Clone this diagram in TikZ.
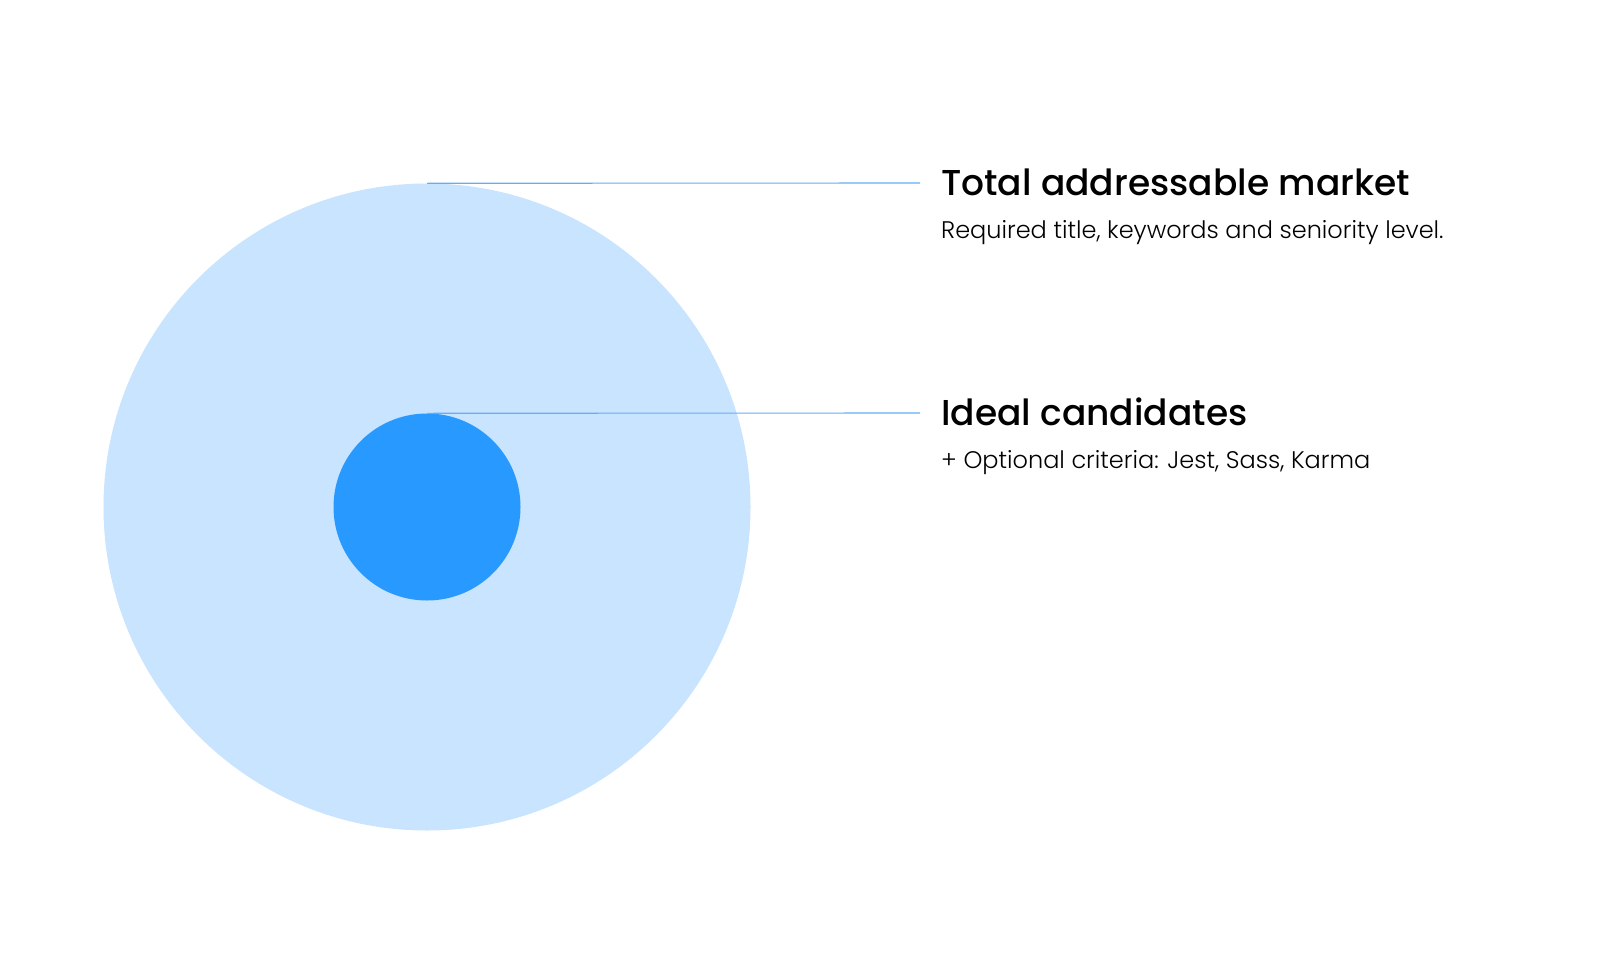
\documentclass[tikz,border=0pt]{standalone}
\usepackage{fontspec}
\setmainfont{Poppins}
\newfontfamily\titlefont{Poppins Medium}
\newfontfamily\bodyfont{Poppins Light}
\definecolor{tamblue}{RGB}{201,228,254}
\definecolor{idealblue}{RGB}{40,153,254}
\definecolor{leaderblue}{RGB}{100,174,245}
\begin{document}
\begin{tikzpicture}[x=1pt,y=-1pt,
  disc/.style={circle,inner sep=0pt,draw=none},
  leader/.style={draw=leaderblue,line width=1.1pt},
  heading/.style={anchor=base west,inner sep=0pt,font=\titlefont\fontsize{36}{43}\selectfont,text=black},
  detail/.style={anchor=base west,inner sep=0pt,font=\bodyfont\fontsize{24}{29}\selectfont,text=black}]
\useasboundingbox (0,0) rectangle (1600,955);
\node[disc,fill=tamblue,minimum size=647pt] (tam) at (427,507) {};
\coordinate (tamend) at (920,183);
\draw[leader] (tam.north) -- (tamend);
\node[disc,fill=idealblue,minimum size=187pt] (ideal) at (427,507) {};
\coordinate (idealend) at (920,413);
\draw[leader] (ideal.north) -- (idealend);
\node[heading] (tamtitle) at (941,195) {Total addressable market};
\node[detail] (tamtext) at (941,238) {Required title, keywords and seniority level.};
\node[heading] (idealtitle) at (941,425) {Ideal candidates};
\node[detail] (idealtext) at (941,468) {+ Optional criteria: Jest, Sass, Karma};
\end{tikzpicture}
\end{document}
